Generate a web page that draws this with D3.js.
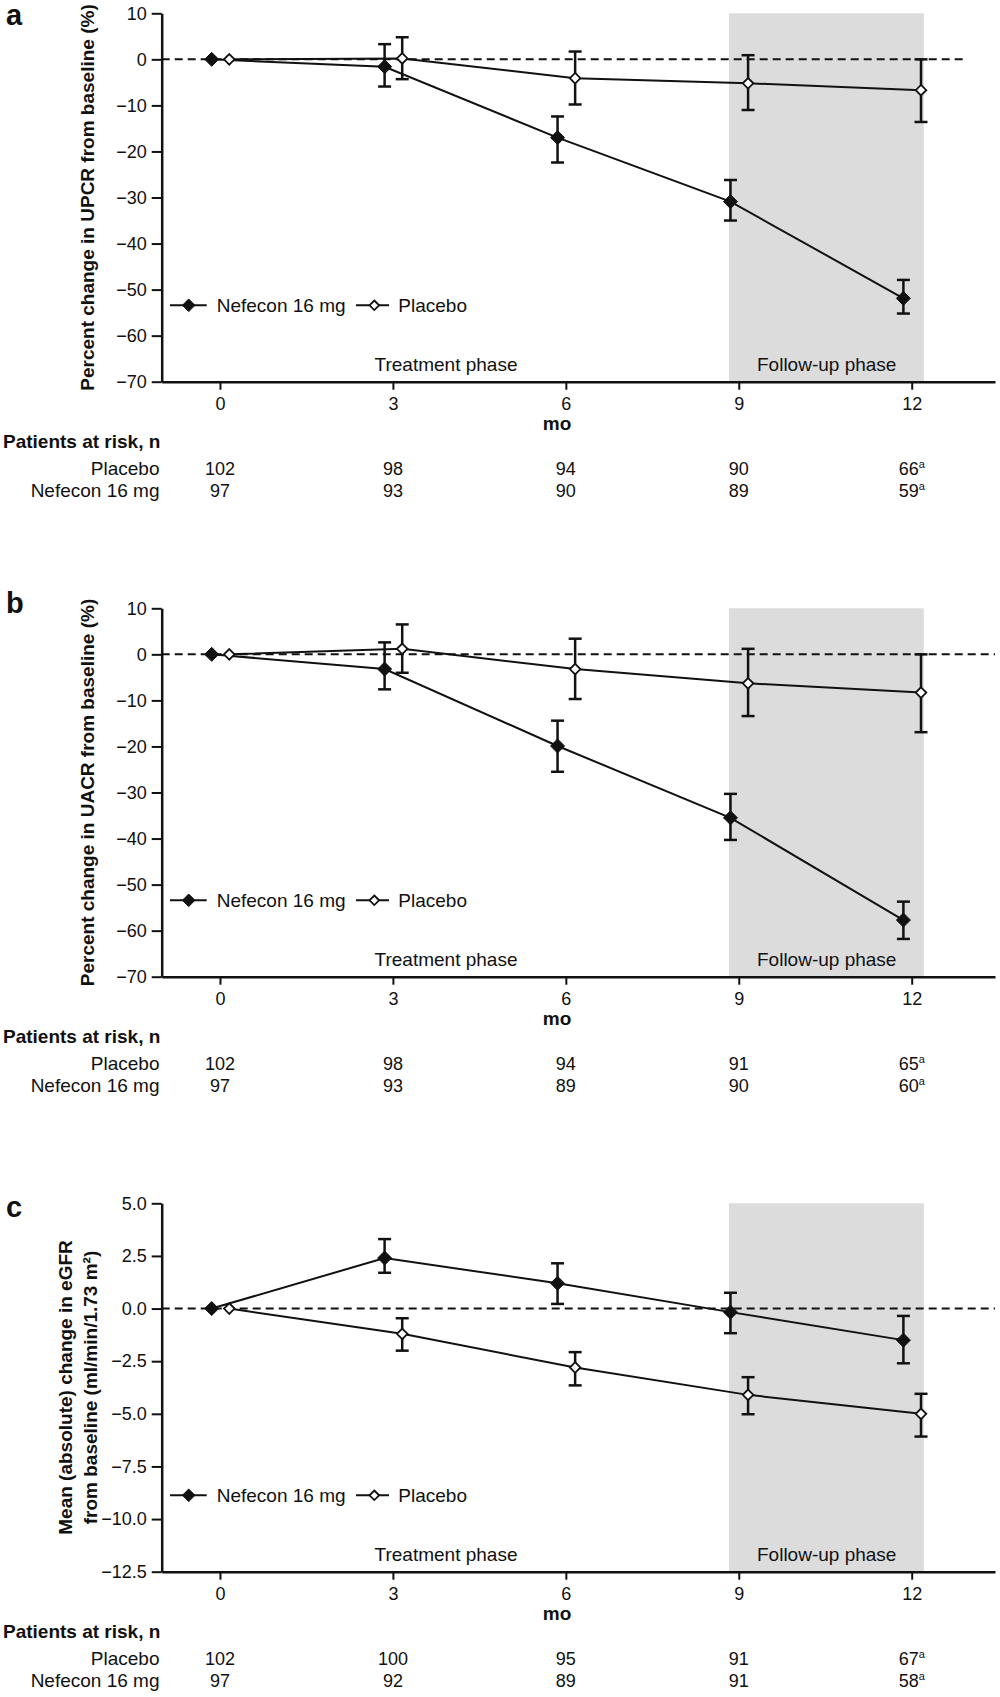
<!DOCTYPE html>
<html><head><meta charset="utf-8">
<script src="https://cdn.jsdelivr.net/npm/d3@7"></script>
<style>
body{margin:0;background:#fff}
svg{display:block}
text{font-family:"Liberation Sans",Arial,Helvetica,sans-serif;fill:#111}
</style>
</head><body>
<svg id="chart" width="1000" height="1697"></svg>
<script>
// ---------------- DATA ----------------
const months = [0, 3, 6, 9, 12];
const seriesNames = ["Nefecon 16 mg", "Placebo"];

// Panel a: percent change in UPCR
const upcrNefecon      = [0, -1.6, -17.0, -30.9, -51.9];
const upcrNefeconUpper = [null, 3.3, -12.4, -26.2, -47.9];
const upcrNefeconLower = [null, -5.9, -22.4, -35.0, -55.2];
const upcrPlacebo      = [0, 0.2, -4.1, -5.2, -6.7];
const upcrPlaceboUpper = [null, 4.8, 1.7, 0.9, 0.0];
const upcrPlaceboLower = [null, -4.3, -9.8, -11.0, -13.6];

// Panel b: percent change in UACR
const uacrNefecon      = [0, -3.2, -19.9, -35.5, -57.7];
const uacrNefeconUpper = [null, 2.6, -14.4, -30.3, -53.7];
const uacrNefeconLower = [null, -7.6, -25.5, -40.3, -61.8];
const uacrPlacebo      = [0, 1.2, -3.2, -6.3, -8.3];
const uacrPlaceboUpper = [null, 6.5, 3.4, 1.2, 0.0];
const uacrPlaceboLower = [null, -4.0, -9.7, -13.4, -16.9];

// Panel c: mean absolute change in eGFR
const egfrNefecon      = [0, 2.4, 1.2, -0.17, -1.5];
const egfrNefeconUpper = [null, 3.3, 2.15, 0.75, -0.35];
const egfrNefeconLower = [null, 1.7, 0.22, -1.17, -2.6];
const egfrPlacebo      = [0, -1.2, -2.8, -4.1, -5.0];
const egfrPlaceboUpper = [null, -0.46, -2.07, -3.26, -4.05];
const egfrPlaceboLower = [null, -2.0, -3.65, -5.02, -6.08];

// Axis ticks
const pctTicks  = [10, 0, -10, -20, -30, -40, -50, -60, -70];
const egfrTicks = [5, 2.5, 0, -2.5, -5, -7.5, -10, -12.5];

// Patients at risk
const atRiskTitle = "Patients at risk, n";
const atRiskRowLabels = ["Placebo", "Nefecon 16 mg"];
const atRiskPlaceboA  = [102, 98, 94, 90, 66];
const atRiskNefeconA  = [97, 93, 90, 89, 59];
const atRiskPlaceboB  = [102, 98, 94, 91, 65];
const atRiskNefeconB  = [97, 93, 89, 90, 60];
const atRiskPlaceboC  = [102, 100, 95, 91, 67];
const atRiskNefeconC  = [97, 92, 89, 91, 58];
const footnotedMonth = 12;
const footnoteMark = "a";

const phaseLabels = ["Treatment phase", "Follow-up phase"];
const xAxisTitle = "mo";
const panelLetters = ["a", "b", "c"];
const yTitleA = ["Percent change in UPCR from baseline (%)"];
const yTitleB = ["Percent change in UACR from baseline (%)"];
const yTitleC = ["Mean (absolute) change in eGFR", "from baseline (ml/min/1.73 m²)"];

// ---------------- LAYOUT ----------------
const panels = [
  {top: 0, letter: panelLetters[0], letterY: 25, yDomain: [-70, 10], ticks: pctTicks, fmt: d3.format("d"),
   title: yTitleA, titleX: [87.5], dashEnd: 965,
   nef: [upcrNefecon, upcrNefeconUpper, upcrNefeconLower], pla: [upcrPlacebo, upcrPlaceboUpper, upcrPlaceboLower],
   risk: [atRiskPlaceboA, atRiskNefeconA]},
  {top: 595, letter: panelLetters[1], letterY: 18, yDomain: [-70, 10], ticks: pctTicks, fmt: d3.format("d"),
   title: yTitleB, titleX: [87.5], dashEnd: 995,
   nef: [uacrNefecon, uacrNefeconUpper, uacrNefeconLower], pla: [uacrPlacebo, uacrPlaceboUpper, uacrPlaceboLower],
   risk: [atRiskPlaceboB, atRiskNefeconB]},
  {top: 1190, letter: panelLetters[2], letterY: 27, yDomain: [-12.5, 5], ticks: egfrTicks, fmt: d3.format(".1f"),
   title: yTitleC, titleX: [65, 90], dashEnd: 995,
   nef: [egfrNefecon, egfrNefeconUpper, egfrNefeconLower], pla: [egfrPlacebo, egfrPlaceboUpper, egfrPlaceboLower],
   risk: [atRiskPlaceboC, atRiskNefeconC]}
];

const svg = d3.select("#chart");
svg.append("rect").attr("width", 1000).attr("height", 1697).attr("fill", "#fff");

const INK = "#111";
const plotTop = 13.3, plotBottom = 381.7;
const x = d3.scaleLinear().domain([-1.011, 13.445]).range([161.7, 995]);
const shadeFrom = 8.83, shadeTo = 12.21;
const nefOffset = -8.3, plaOffset = 9.3;

const diamond = r => `M0,${-r}L${r},0L0,${r}L${-r},0Z`;

function drawPanel(p) {
  const g = svg.append("g").attr("transform", `translate(0,${p.top})`);
  const y = d3.scaleLinear().domain(p.yDomain).range([plotBottom, plotTop]);

  // follow-up shade
  g.append("rect")
    .attr("x", x(shadeFrom)).attr("width", x(shadeTo) - x(shadeFrom))
    .attr("y", y(p.yDomain[1])).attr("height", y(p.yDomain[0]) - y(p.yDomain[1]))
    .attr("fill", "#dcdcdc");

  // zero reference line
  g.append("line")
    .attr("x1", x.range()[0]).attr("x2", p.dashEnd)
    .attr("y1", y(0)).attr("y2", y(0))
    .attr("stroke", INK).attr("stroke-width", 2).attr("stroke-dasharray", "8,5");

  // axes
  const xa = g.append("g").attr("transform", `translate(0,${y(p.yDomain[0])})`)
    .call(d3.axisBottom(x).tickValues(months).tickSize(8).tickSizeOuter(0).tickPadding(7.5));
  const ya = g.append("g").attr("transform", `translate(${x.range()[0]},0)`)
    .call(d3.axisLeft(y).tickValues(p.ticks).tickFormat(p.fmt).tickSize(10).tickSizeOuter(0).tickPadding(5));
  [xa, ya].forEach(a => {
    a.select(".domain").attr("stroke", INK).attr("stroke-width", 2.5);
    a.selectAll(".tick line").attr("stroke", INK).attr("stroke-width", 2);
    a.selectAll(".tick text").attr("font-size", 18).attr("fill", INK)
      .attr("font-family", '"Liberation Sans",Arial,sans-serif');
  });

  // series
  const series = [
    {vals: p.nef, off: nefOffset, filled: true},
    {vals: p.pla, off: plaOffset, filled: false}
  ];
  const line = d3.line().x(d => x(d.m) + d.off).y(d => y(d.v));
  series.forEach(s => {
    const pts = months.map((m, i) => ({m, i, off: s.off, v: s.vals[0][i], hi: s.vals[1][i], lo: s.vals[2][i]}));
    g.append("path").datum(pts).attr("d", line)
      .attr("fill", "none").attr("stroke", INK).attr("stroke-width", 2);
    const eb = g.append("g").attr("stroke", INK).attr("stroke-width", 2.5);
    pts.filter(d => d.hi != null).forEach(d => {
      const cx = x(d.m) + d.off;
      eb.append("line").attr("x1", cx).attr("x2", cx).attr("y1", y(d.hi)).attr("y2", y(d.lo));
      eb.append("line").attr("x1", cx - 6.5).attr("x2", cx + 6.5).attr("y1", y(d.hi)).attr("y2", y(d.hi));
      eb.append("line").attr("x1", cx - 6.5).attr("x2", cx + 6.5).attr("y1", y(d.lo)).attr("y2", y(d.lo));
    });
    g.selectAll(null).data(pts).enter().append("path")
      .attr("transform", d => `translate(${x(d.m) + d.off},${y(d.v)})`)
      .attr("d", s.filled ? diamond(7) : diamond(5.3))
      .attr("fill", s.filled ? INK : "#fff")
      .attr("stroke", INK).attr("stroke-width", s.filled ? 1 : 1.8);
  });

  // legend
  const ly = 305.3;
  const leg = [
    {x1: 170, x2: 206.7, cx: 188.7, tx: 216.7, filled: true, name: seriesNames[0]},
    {x1: 356, x2: 389, cx: 374.3, tx: 398.3, filled: false, name: seriesNames[1]}
  ];
  leg.forEach(l => {
    g.append("line").attr("x1", l.x1).attr("x2", l.x2).attr("y1", ly).attr("y2", ly)
      .attr("stroke", INK).attr("stroke-width", 2);
    g.append("path").attr("transform", `translate(${l.cx},${ly})`)
      .attr("d", l.filled ? diamond(6.3) : diamond(4.8))
      .attr("fill", l.filled ? INK : "#fff").attr("stroke", INK).attr("stroke-width", l.filled ? 1 : 1.8);
    g.append("text").attr("x", l.tx).attr("y", ly).attr("dy", "0.35em")
      .attr("font-size", 19).text(l.name);
  });

  // phase labels
  g.append("text").attr("x", 446).attr("y", 371).attr("text-anchor", "middle")
    .attr("font-size", 19).text(phaseLabels[0]);
  g.append("text").attr("x", 826.7).attr("y", 371).attr("text-anchor", "middle")
    .attr("font-size", 19).text(phaseLabels[1]);

  // panel letter
  g.append("text").attr("x", 6).attr("y", p.letterY).attr("font-size", 29)
    .attr("font-weight", "bold").text(p.letter);

  // y title
  const yc = (plotTop + plotBottom) / 2;
  p.title.forEach((t, i) => {
    g.append("text").attr("transform", `translate(${p.titleX[i]},${yc}) rotate(-90)`)
      .attr("text-anchor", "middle").attr("dy", "0.35em")
      .attr("font-size", 19).attr("font-weight", "bold").text(t);
  });

  // x title
  g.append("text").attr("x", 557).attr("y", 430).attr("text-anchor", "middle")
    .attr("font-size", 19).attr("font-weight", "bold").text(xAxisTitle);

  // patients at risk
  g.append("text").attr("x", 3).attr("y", 448).attr("font-size", 19)
    .attr("font-weight", "bold").text(atRiskTitle);
  const rowY = [475, 497];
  atRiskRowLabels.forEach((lab, r) => {
    g.append("text").attr("x", 159.5).attr("y", rowY[r]).attr("text-anchor", "end")
      .attr("font-size", 19).text(lab);
    p.risk[r].forEach((n, i) => {
      const t = g.append("text").attr("x", x(months[i])).attr("y", rowY[r])
        .attr("text-anchor", "middle").attr("font-size", 18);
      t.append("tspan").text(n);
      if (months[i] === footnotedMonth) {
        t.append("tspan").attr("font-size", 11).attr("dy", -7).text(footnoteMark);
      }
    });
  });
}

panels.forEach(drawPanel);
</script>
</body></html>
